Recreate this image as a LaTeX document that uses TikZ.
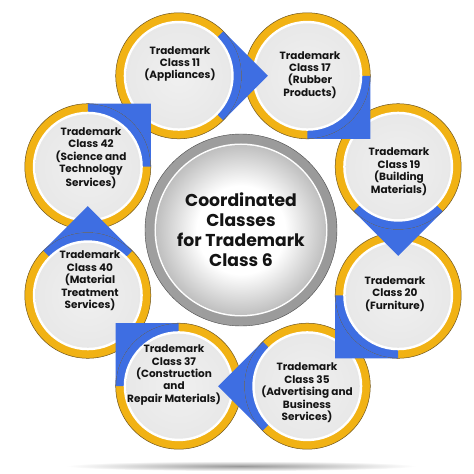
\documentclass[tikz,border=0pt]{standalone}
\usepackage{fontspec}
\setmainfont{Poppins}
\usepackage{tikz}
\usetikzlibrary{calc}
\definecolor{ringyellow}{RGB}{241,178,20}
\definecolor{ringblue}{RGB}{62,110,226}
\definecolor{discgray}{RGB}{240,240,240}
\definecolor{rimbrown}{RGB}{110,85,30}
\definecolor{inkblack}{RGB}{20,20,20}
\pgfdeclareradialshading{hubglow}{\pgfpoint{0bp}{0bp}}{color(0bp)=(white); color(13bp)=(white); color(25bp)=(gray!50); color(50bp)=(gray!50)}
\tikzset{
    rimline/.style={draw=rimbrown, line width=0.5pt},
    satlabel/.style={align=center, text=inkblack, inner sep=0pt,
        font=\fontsize{10.5}{12.4}\selectfont\bfseries},
    hublabel/.style={align=center, text=inkblack, inner sep=0pt,
        font=\fontsize{17.2}{20}\selectfont\bfseries},
}
\def\satdisc(#1:#2:#3)% Syntax: (polar angle:pointer angle:name)
    { \coordinate (#3) at ($(ringc)+(#1:168)$);
      \fill[ringyellow] (#3) circle (63);
      \fill[ringblue] (#3) -- ($(#3)+(#2+45:63)$) arc (#2+45:#2-45:63) -- cycle;
      \draw[rimline] (#3) circle (63);
      \fill[white] (#3) circle (55);
      \shade[inner color=discgray, outer color=discgray!93!gray] (#3) circle (52.5); }
\def\satcorner(#1:#2)% Syntax: (disc name:pointer angle)
    { \fill[ringblue] ($(#1)+(#2+45:63)$) -- ($(#1)+(#2:89.1)$) -- ($(#1)+(#2-45:63)$) arc (#2-45:#2+45:63) -- cycle; }

\begin{document}
\begin{tikzpicture}[x=1pt, y=1pt]
	\useasboundingbox[fill=white] (-241,-244) rectangle (233,230);
	\shade[inner color=gray!80, outer color=white] (0,-236) ellipse (175 and 5);
	% hub
	\shade[left color=gray!75, middle color=gray!25, right color=gray!80] (0,0) circle (96);
	\draw[gray!60!black, line width=0.4pt] (0,0) circle (96);
	\fill[white] (0,0) circle (86.5);
	\shade[shading=hubglow] (0,0) circle (85);
	\node[hublabel] (hub) at (0,0) {Coordinated\\Classes\\for Trademark\\Class 6};
	% satellites
	\coordinate (ringc) at (2,-1);
	\satdisc(112.5:0:s11);
	\satdisc(157.5:45:s42);
	\satdisc(-157.5:90:s40);
	\satdisc(-112.5:135:s37);
	\satdisc(-67.5:180:s35);
	\satdisc(-22.5:-135:s20);
	\satdisc(22.5:-90:s19);
	\satdisc(67.5:-45:s17);
	\satcorner(s11:0);
	\satcorner(s17:-45);
	\satcorner(s19:-90);
	\satcorner(s20:-135);
	\satcorner(s35:180);
	\satcorner(s37:135);
	\satcorner(s40:90);
	\satcorner(s42:45);
	\node[satlabel] (tm11) at (-61,166) {Trademark\\Class 11\\(Appliances)};
	\node[satlabel] (tm17) at (69,155) {Trademark\\Class 17\\(Rubber\\Products)};
	\node[satlabel] (tm19) at (158,58) {Trademark\\Class 19\\(Building\\Materials)};
	\node[satlabel] (tm20) at (154,-64) {Trademark\\Class 20\\(Furniture)};
	\node[satlabel] (tm35) at (66,-163) {Trademark\\Class 35\\(Advertising and\\Business\\Services)};
	\node[satlabel] (tm37) at (-67,-145) {Trademark\\Class 37\\(Construction\\and\\Repair Materials)};
	\node[satlabel] (tm40) at (-151,-51) {Trademark\\Class 40\\(Material\\Treatment\\Services)};
	\node[satlabel] (tm42) at (-150,72) {Trademark\\Class 42\\(Science and\\Technology\\Services)};
\end{tikzpicture}
\end{document}
